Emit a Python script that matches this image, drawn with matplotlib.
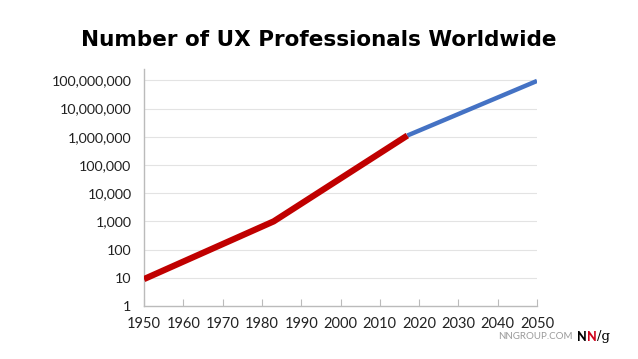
import matplotlib
matplotlib.use("Agg")
import matplotlib.pyplot as plt
from matplotlib.ticker import FixedLocator, NullLocator

years_hist = [1950, 1983, 2017]
pros_hist = [9, 1000, 1_100_000]
years_proj = [2017, 2050]
pros_proj = [1_100_000, 95_000_000]
xticks = list(range(1950, 2051, 10))
yticks = [1, 10, 100, 1_000, 10_000, 100_000, 1_000_000, 10_000_000, 100_000_000]
ylabels = ["1", "10", "100", "1,000", "10,000", "100,000", "1,000,000", "10,000,000", "100,000,000"]

fig = plt.figure(figsize=(6.38, 3.59), dpi=100)
ax = fig.add_axes([0.2257, 0.1476, 0.616, 0.66])
ax.set_yscale("log")
ax.set_xlim(1950, 2050)
ax.set_ylim(1, 2.5e8)

for y in yticks[1:]:
    ax.axhline(y, color="#e3e3e3", lw=0.8, zorder=0)

ax.plot(years_proj, pros_proj, color="#4472c4", lw=3.2, solid_capstyle="butt", zorder=3)
ax.plot(years_hist, pros_hist, color="#c00000", lw=4.5, solid_capstyle="butt", zorder=4)

ax.yaxis.set_major_locator(FixedLocator(yticks))
ax.yaxis.set_minor_locator(NullLocator())
ax.set_yticklabels(ylabels)
ax.set_xticks(xticks)
ax.tick_params(axis="y", length=0, pad=9, labelsize=10.3, labelcolor="#222222")
ax.tick_params(axis="x", direction="in", length=5, color="#bbbbbb", pad=8, labelsize=10.5, labelcolor="#222222")
for lab in ax.get_xticklabels() + ax.get_yticklabels():
    lab.set_family("Lato")

for s in ["top", "right"]:
    ax.spines[s].set_visible(False)
for s in ["left", "bottom"]:
    ax.spines[s].set_color("#bbbbbb")
    ax.spines[s].set_linewidth(1.0)

fig.text(0.5, 0.889, "Number of UX Professionals Worldwide", ha="center", va="center",
         fontsize=15.5, fontweight="bold", family="DejaVu Sans", color="#000000")

fig.text(0.898, 0.062, "NNGROUP.COM", ha="right", va="center", fontsize=7, family="Lato", color="#9a9a9a")
fig.text(0.905, 0.062, "N", ha="left", va="center", fontsize=9, fontweight="black", family="Lato", color="#000000")
fig.text(0.920, 0.062, "N", ha="left", va="center", fontsize=9, fontweight="black", family="Lato", color="#d0021b")
fig.text(0.935, 0.062, "/g", ha="left", va="center", fontsize=9.5, family="DejaVu Serif", color="#000000")

fig.savefig("out.png", dpi=100, facecolor="white")
